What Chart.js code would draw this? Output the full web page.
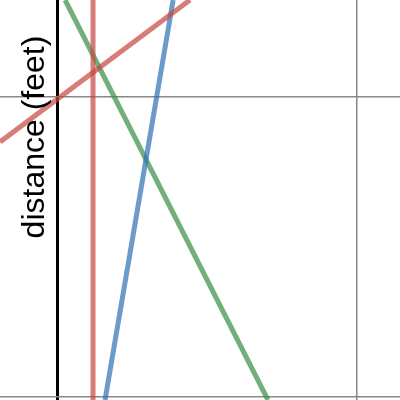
<!DOCTYPE html>
<html><head><style>html,body{margin:0;padding:0;background:#fff}#c{width:400px;height:400px}</style>
<script src="https://cdn.jsdelivr.net/npm/chart.js@4/dist/chart.umd.min.js"></script></head>
<body><div id="c"><canvas id="cv" width="400" height="400"></canvas></div>
<script>
const redDiag = [{x:-0.19,y:0.85},{x:0.443,y:1.323}];
const redVert = [{x:0.12,y:-0.01},{x:0.12,y:1.323}];
const blueLine = [{x:0.16,y:-0.01},{x:0.387,y:1.323}];
const greenLine = [{x:0.027,y:1.323},{x:0.703,y:-0.01}];
const gridX = [0,1];
const gridY = [0,1];
const yLabel = "distance (feet)";
const mk=(d,c)=>({data:d,showLine:true,borderColor:c,borderWidth:5,pointRadius:0,fill:false});
const labelPlugin={id:'lbl',afterDraw(ch){const c=ch.ctx;c.save();c.translate(35,137);c.rotate(-Math.PI/2);c.font='32px "Liberation Sans", Arial';c.fillStyle='#000';c.textAlign='center';c.textBaseline='middle';c.fillText(yLabel,0,0);c.restore();}};
new Chart(document.getElementById('cv'),{type:'scatter',
data:{datasets:[mk(redDiag,'rgba(199,68,64,0.7)'),mk(redVert,'rgba(199,68,64,0.7)'),mk(blueLine,'rgba(45,112,179,0.7)'),mk(greenLine,'rgba(56,140,70,0.7)')]},
options:{responsive:false,animation:false,layout:{padding:0},plugins:{legend:{display:false},tooltip:{enabled:false}},
scales:{
x:{type:'linear',min:-0.19,max:1.143,afterBuildTicks:s=>{s.ticks=gridX.map(v=>({value:v}))},ticks:{display:false},border:{display:false},grid:{drawTicks:false,lineWidth:c=>c.tick&&c.tick.value===0?3:1.5,color:c=>c.tick&&c.tick.value===0?'#000':'#888'}},
y:{type:'linear',min:-0.01,max:1.323,afterBuildTicks:s=>{s.ticks=gridY.map(v=>({value:v}))},ticks:{display:false},border:{display:false},grid:{drawTicks:false,lineWidth:1.5,color:'#888'}}
}},plugins:[labelPlugin]});
</script></body></html>
